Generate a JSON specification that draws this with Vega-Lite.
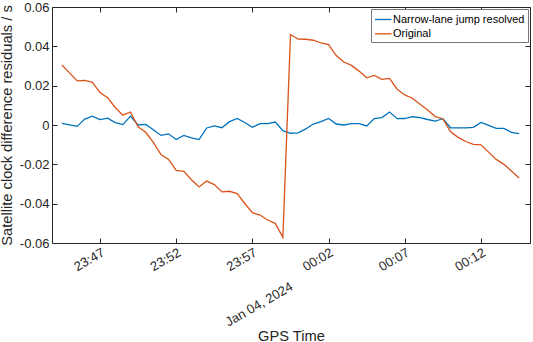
{
  "$schema": "https://vega.github.io/schema/vega-lite/v6.json",
  "width": 478,
  "height": 236,
  "autosize": {"type": "none"},
  "padding": {"left": 52, "top": 7, "right": 3, "bottom": 99},
  "background": "white",
  "config": {
    "font": "Liberation Sans",
    "view": {"stroke": "#262626", "strokeWidth": 1},
    "axis": {
      "grid": false, "domain": false, "tickColor": "#262626", "tickSize": -5, "tickWidth": 1,
      "labelColor": "#262626", "labelFont": "Liberation Sans", "labelFontSize": 13,
      "titleFont": "Liberation Sans", "titleFontSize": 14.7, "titleFontWeight": "normal", "titleColor": "#262626",
      "labelOverlap": false, "labelFlush": false
    }
  },
  "data": {"values": [
    {"t": "2024-01-03T23:44:30", "resolved": 0.0008, "original": 0.0305},
    {"t": "2024-01-03T23:45:00", "resolved": 0.0001, "original": 0.0265},
    {"t": "2024-01-03T23:45:30", "resolved": -0.0007, "original": 0.0224},
    {"t": "2024-01-03T23:46:00", "resolved": 0.0030, "original": 0.0227},
    {"t": "2024-01-03T23:46:30", "resolved": 0.0045, "original": 0.0217},
    {"t": "2024-01-03T23:47:00", "resolved": 0.0027, "original": 0.0165},
    {"t": "2024-01-03T23:47:30", "resolved": 0.0035, "original": 0.0139},
    {"t": "2024-01-03T23:48:00", "resolved": 0.0012, "original": 0.0089},
    {"t": "2024-01-03T23:48:30", "resolved": 0.0002, "original": 0.0050},
    {"t": "2024-01-03T23:49:00", "resolved": 0.0045, "original": 0.0066},
    {"t": "2024-01-03T23:49:30", "resolved": 0.0000, "original": -0.0009},
    {"t": "2024-01-03T23:50:00", "resolved": 0.0003, "original": -0.0037},
    {"t": "2024-01-03T23:50:30", "resolved": -0.0024, "original": -0.0088},
    {"t": "2024-01-03T23:51:00", "resolved": -0.0053, "original": -0.0150},
    {"t": "2024-01-03T23:51:30", "resolved": -0.0045, "original": -0.0175},
    {"t": "2024-01-03T23:52:00", "resolved": -0.0074, "original": -0.0231},
    {"t": "2024-01-03T23:52:30", "resolved": -0.0053, "original": -0.0236},
    {"t": "2024-01-03T23:53:00", "resolved": -0.0066, "original": -0.0278},
    {"t": "2024-01-03T23:53:30", "resolved": -0.0074, "original": -0.0315},
    {"t": "2024-01-03T23:54:00", "resolved": -0.0015, "original": -0.0285},
    {"t": "2024-01-03T23:54:30", "resolved": -0.0005, "original": -0.0303},
    {"t": "2024-01-03T23:55:00", "resolved": -0.0014, "original": -0.0340},
    {"t": "2024-01-03T23:55:30", "resolved": 0.0017, "original": -0.0337},
    {"t": "2024-01-03T23:56:00", "resolved": 0.0033, "original": -0.0349},
    {"t": "2024-01-03T23:56:30", "resolved": 0.0013, "original": -0.0399},
    {"t": "2024-01-03T23:57:00", "resolved": -0.0012, "original": -0.0446},
    {"t": "2024-01-03T23:57:30", "resolved": 0.0007, "original": -0.0458},
    {"t": "2024-01-03T23:58:00", "resolved": 0.0007, "original": -0.0483},
    {"t": "2024-01-03T23:58:30", "resolved": 0.0015, "original": -0.0500},
    {"t": "2024-01-03T23:59:00", "resolved": -0.0029, "original": -0.0571},
    {"t": "2024-01-03T23:59:30", "resolved": -0.0042, "original": 0.0460},
    {"t": "2024-01-04T00:00:00", "resolved": -0.0040, "original": 0.0437},
    {"t": "2024-01-04T00:00:30", "resolved": -0.0020, "original": 0.0436},
    {"t": "2024-01-04T00:01:00", "resolved": 0.0005, "original": 0.0431},
    {"t": "2024-01-04T00:01:30", "resolved": 0.0017, "original": 0.0417},
    {"t": "2024-01-04T00:02:00", "resolved": 0.0033, "original": 0.0409},
    {"t": "2024-01-04T00:02:30", "resolved": 0.0005, "original": 0.0353},
    {"t": "2024-01-04T00:03:00", "resolved": 0.0000, "original": 0.0320},
    {"t": "2024-01-04T00:03:30", "resolved": 0.0007, "original": 0.0303},
    {"t": "2024-01-04T00:04:00", "resolved": 0.0007, "original": 0.0274},
    {"t": "2024-01-04T00:04:30", "resolved": -0.0005, "original": 0.0240},
    {"t": "2024-01-04T00:05:00", "resolved": 0.0033, "original": 0.0252},
    {"t": "2024-01-04T00:05:30", "resolved": 0.0038, "original": 0.0232},
    {"t": "2024-01-04T00:06:00", "resolved": 0.0066, "original": 0.0237},
    {"t": "2024-01-04T00:06:30", "resolved": 0.0032, "original": 0.0182},
    {"t": "2024-01-04T00:07:00", "resolved": 0.0033, "original": 0.0153},
    {"t": "2024-01-04T00:07:30", "resolved": 0.0042, "original": 0.0136},
    {"t": "2024-01-04T00:08:00", "resolved": 0.0037, "original": 0.0106},
    {"t": "2024-01-04T00:08:30", "resolved": 0.0028, "original": 0.0076},
    {"t": "2024-01-04T00:09:00", "resolved": 0.0020, "original": 0.0043},
    {"t": "2024-01-04T00:09:30", "resolved": 0.0032, "original": 0.0032},
    {"t": "2024-01-04T00:10:00", "resolved": -0.0014, "original": -0.0034},
    {"t": "2024-01-04T00:10:30", "resolved": -0.0015, "original": -0.0063},
    {"t": "2024-01-04T00:11:00", "resolved": -0.0015, "original": -0.0084},
    {"t": "2024-01-04T00:11:30", "resolved": -0.0012, "original": -0.0099},
    {"t": "2024-01-04T00:12:00", "resolved": 0.0013, "original": -0.0101},
    {"t": "2024-01-04T00:12:30", "resolved": -0.0002, "original": -0.0138},
    {"t": "2024-01-04T00:13:00", "resolved": -0.0017, "original": -0.0175},
    {"t": "2024-01-04T00:13:30", "resolved": -0.0017, "original": -0.0200},
    {"t": "2024-01-04T00:14:00", "resolved": -0.0037, "original": -0.0234},
    {"t": "2024-01-04T00:14:30", "resolved": -0.0044, "original": -0.0270}
  ]},
  "transform": [{"fold": ["resolved", "original"], "as": ["series", "value"]}],
  "layer": [
    {
      "mark": {"type": "line", "strokeWidth": 1.3},
      "encoding": {
        "x": {
          "field": "t", "type": "temporal",
          "scale": {"domain": [
            {"year": 2024, "month": 1, "date": 3, "hours": 23, "minutes": 43, "seconds": 51},
            {"year": 2024, "month": 1, "date": 4, "hours": 0, "minutes": 15, "seconds": 13}
          ]},
          "axis": {
            "orient": "bottom",
            "values": [
              {"year": 2024, "month": 1, "date": 3, "hours": 23, "minutes": 47},
              {"year": 2024, "month": 1, "date": 3, "hours": 23, "minutes": 52},
              {"year": 2024, "month": 1, "date": 3, "hours": 23, "minutes": 57},
              {"year": 2024, "month": 1, "date": 4, "hours": 0, "minutes": 2},
              {"year": 2024, "month": 1, "date": 4, "hours": 0, "minutes": 7},
              {"year": 2024, "month": 1, "date": 4, "hours": 0, "minutes": 12}
            ],
            "format": "%H:%M", "labelAngle": -30, "labelAlign": "right", "labelBaseline": "top", "labelPadding": 8,
            "title": "GPS Time", "titleY": 97, "titleBaseline": "alphabetic"
          }
        },
        "y": {
          "field": "value", "type": "quantitative",
          "scale": {"domain": [-0.06, 0.06], "nice": false, "zero": false},
          "axis": {
            "values": [-0.06, -0.04, -0.02, 0, 0.02, 0.04, 0.06],
            "labelExpr": "datum.value == 0 ? '0' : (datum.value < 0 ? '-' : '') + format(abs(datum.value), '.2f')",
            "labelPadding": 8,
            "title": "Satellite clock difference residuals / s", "titleX": -41, "titleBaseline": "alphabetic"
          }
        },
        "color": {
          "field": "series", "type": "nominal",
          "scale": {"domain": ["resolved", "original"], "range": ["#0072BD", "#D95319"]},
          "legend": {
            "title": null, "orient": "top-right", "offset": 2,
            "labelExpr": "datum.label == 'resolved' ? 'Narrow-lane jump resolved' : 'Original'",
            "labelFont": "Liberation Sans", "labelFontSize": 11, "labelColor": "#000000",
            "symbolType": "M-1,0H1.54", "symbolSize": 169, "symbolStrokeWidth": 1.3, "symbolFillColor": "transparent",
            "labelOffset": 4, "padding": 3, "rowPadding": 1.3,
            "fillColor": "white", "strokeColor": "#777777", "cornerRadius": 0
          }
        }
      }
    },
    {
      "mark": {"type": "line", "opacity": 0},
      "encoding": {
        "x": {"field": "t", "type": "temporal", "axis": {
          "orient": "top", "labels": false, "title": null,
          "values": [
            {"year": 2024, "month": 1, "date": 3, "hours": 23, "minutes": 47},
            {"year": 2024, "month": 1, "date": 3, "hours": 23, "minutes": 52},
            {"year": 2024, "month": 1, "date": 3, "hours": 23, "minutes": 57},
            {"year": 2024, "month": 1, "date": 4, "hours": 0, "minutes": 2},
            {"year": 2024, "month": 1, "date": 4, "hours": 0, "minutes": 7},
            {"year": 2024, "month": 1, "date": 4, "hours": 0, "minutes": 12}
          ]}},
        "y": {"field": "value", "type": "quantitative", "axis": {
          "orient": "right", "labels": false, "title": null,
          "values": [-0.06, -0.04, -0.02, 0, 0.02, 0.04, 0.06]}}
      }
    },
    {
      "mark": {"type": "line", "opacity": 0},
      "encoding": {
        "x": {"field": "t", "type": "temporal", "axis": {
          "orient": "bottom", "ticks": false, "title": null,
          "values": [{"year": 2024, "month": 1, "date": 3, "hours": 23, "minutes": 59, "seconds": 21}],
          "labelExpr": "'Jan 04, 2024'", "labelAngle": -30, "labelAlign": "right", "labelBaseline": "top", "labelPadding": 37
        }},
        "y": {"field": "value", "type": "quantitative", "axis": null}
      }
    }
  ],
  "resolve": {"axis": {"x": "independent", "y": "independent"}}
}
